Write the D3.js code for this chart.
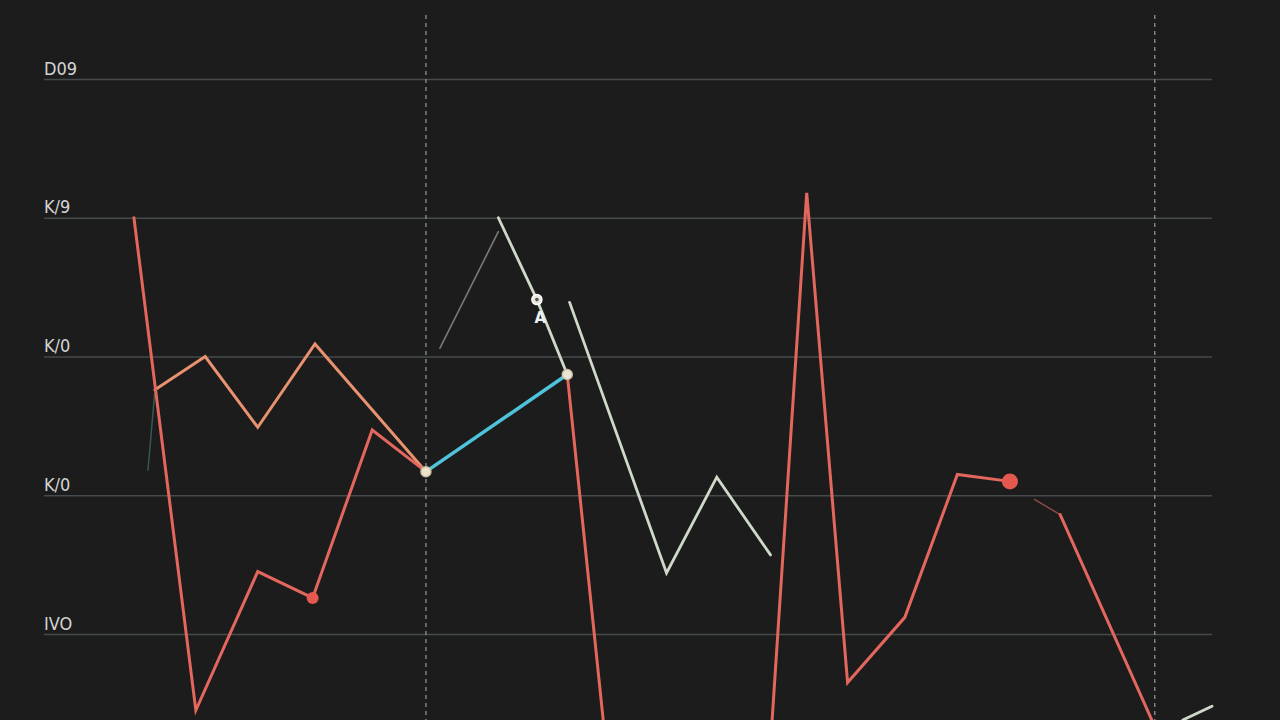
<!DOCTYPE html>
<html>
<head>
<meta charset="utf-8">
<script src="https://cdn.jsdelivr.net/npm/d3@7"></script>
<style>
html,body{margin:0;padding:0;background:#1c1c1c;overflow:hidden;}
svg{display:block;}
</style>
</head>
<body>
<svg id="chart" width="1280" height="720"></svg>
<script>
// ---- data ----
const tickValues = [0, 100, 200, 300, 400];
const tickLabels = ["IVO", "K/0", "K/0", "K/9", "D09"];
const markerLines = [32.7, 95.1];

// red series (null = gap)
const redX = [7.7, 13.0, 18.3, 23.0, 28.1, 32.7, null, 44.8, 48.1, null, 62.2, 65.3, 68.8, 73.7, 78.2, 82.7];
const redY = [300, -55, 45, 26, 147, 117, null, 187, -80, null, -80, 318, -35, 12, 115, 110];
const redTailX = [87.0, 95.8];
const redTailY = [86, -80];
const redFaintX = [84.8, 87.0];
const redFaintY = [97, 86];

// orange series
const orangeX = [9.5, 13.8, 18.3, 23.2, 32.7];
const orangeY = [176, 200, 149, 209, 117];

// cyan series
const cyanX = [32.7, 44.8];
const cyanY = [117, 187];

// light series
const lightX = [38.9, 42.2, 44.8, null, 45.0, 53.3, 57.6, 62.2, null, 97.5, 100];
const lightY = [300, 241, 187, null, 239, 44, 113, 57, null, -62, -52];
const lightFaintX = [33.9, 38.9];
const lightFaintY = [206, 290];

// faint teal
const tealX = [8.9, 9.5];
const tealY = [118, 176];

// point markers
const redDotsX = [23.0, 82.7];
const redDotsY = [26, 110];
const redDotsR = [6, 8];
const whiteDotsX = [32.7, 44.8, 42.2];
const whiteDotsY = [117, 187, 241];
const noteX = [42.5];
const noteY = [224];
const noteText = ["A"];

// ---- drawing ----
const svg = d3.select("#chart");
const W = 1280, H = 720;
const x = d3.scaleLinear().domain([0, 100]).range([44, 1212]);
const y = d3.scaleLinear().domain([0, 400]).range([634, 79]);

svg.append("rect").attr("width", W).attr("height", H).attr("fill", "#1c1c1c");

// grid + labels
const axis = d3.axisRight(y)
  .tickValues(tickValues)
  .tickSize(x(100) - x(0))
  .tickFormat((d, i) => tickLabels[i]);
const gAxis = svg.append("g").attr("transform", `translate(${x(0)},0)`).call(axis);
gAxis.select(".domain").remove();
gAxis.selectAll(".tick line").attr("stroke", "#454a4a").attr("stroke-width", 1.6);
gAxis.selectAll(".tick text")
  .attr("x", 0).attr("dy", -5).attr("text-anchor", "start")
  .attr("fill", "#d4d4d4").attr("font-size", 18)
  .attr("font-family", "DejaVu Sans Condensed, DejaVu Sans, sans-serif");

// dashed vertical lines
svg.append("g").selectAll("line").data(markerLines).join("line")
  .attr("x1", d => x(d)).attr("x2", d => x(d))
  .attr("y1", 15).attr("y2", H)
  .attr("stroke", "#8d9292").attr("stroke-width", 1.3)
  .attr("stroke-dasharray", "4,4");

function pts(xs, ys) { return xs.map((v, i) => [v, ys[i]]); }
const line = d3.line()
  .defined(d => d[0] !== null && d[1] !== null)
  .x(d => x(d[0])).y(d => y(d[1]));

function draw(xs, ys, color, w, op) {
  svg.append("path").datum(pts(xs, ys))
    .attr("d", line).attr("fill", "none")
    .attr("stroke", color).attr("stroke-width", w)
    .attr("stroke-opacity", op)
    .attr("stroke-linejoin", "miter").attr("stroke-linecap", "round");
}

draw(tealX, tealY, "#3f6663", 1.5, 0.8);
draw(lightFaintX, lightFaintY, "#9aa59a", 1.6, 0.7);
draw(redFaintX, redFaintY, "#b0584f", 1.4, 0.8);
draw(orangeX, orangeY, "#e8926f", 3, 1);
draw(redX, redY, "#e3675d", 3, 1);
draw(redTailX, redTailY, "#e3675d", 3, 1);
draw(lightX, lightY, "#cfd9c9", 2.8, 1);
draw(cyanX, cyanY, "#4fc3dc", 3.5, 1);

// markers
svg.append("g").selectAll("circle").data(pts(redDotsX, redDotsY)).join("circle")
  .attr("cx", d => x(d[0])).attr("cy", d => y(d[1]))
  .attr("r", (d, i) => redDotsR[i]).attr("fill", "#e5584f");

svg.append("g").selectAll("circle").data(pts(whiteDotsX, whiteDotsY)).join("circle")
  .attr("cx", d => x(d[0])).attr("cy", d => y(d[1]))
  .attr("r", 5).attr("fill", (d, i) => i === 0 ? "#eee2cc" : "#e9e6d8")
  .attr("stroke", (d, i) => i === 2 ? "#ffffff" : "#cbbfa4").attr("stroke-width", 1.5);
svg.append("circle").attr("cx", x(whiteDotsX[2])).attr("cy", y(whiteDotsY[2]))
  .attr("r", 1.8).attr("fill", "#555");

svg.append("g").selectAll("text").data(noteText).join("text")
  .attr("x", (d, i) => x(noteX[i])).attr("y", (d, i) => y(noteY[i]))
  .attr("text-anchor", "middle")
  .attr("fill", "#f0f0f0").attr("font-size", 15).attr("font-weight", "bold")
  .attr("font-family", "DejaVu Sans, sans-serif")
  .text(d => d);
</script>
</body>
</html>
